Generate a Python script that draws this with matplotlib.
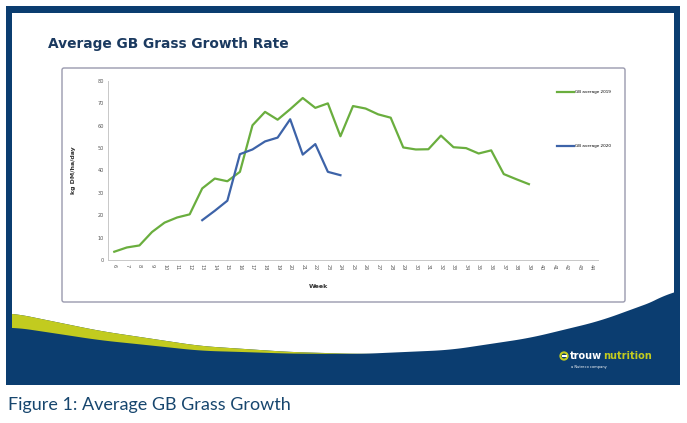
import numpy as np
import matplotlib
matplotlib.use("Agg")
import matplotlib.pyplot as plt
from matplotlib.patches import Rectangle, Polygon, FancyBboxPatch, Circle

# ---- data ----
weeks = list(range(6, 45))
weeks_2019 = list(range(6, 40))
avg_2019 = [3.7, 5.6, 6.5, 12.5, 16.7, 19.0, 20.4, 32.0, 36.4, 35.2, 39.4, 60.2,
            66.2, 62.7, 67.4, 72.4, 68.0, 70.0, 55.3, 68.8, 67.7, 65.1, 63.6,
            50.3, 49.4, 49.5, 55.6, 50.4, 50.0, 47.6, 49.0, 38.4, 36.1, 33.9]
weeks_2020 = list(range(13, 25))
avg_2020 = [17.8, 22.0, 26.5, 47.3, 49.4, 53.0, 54.7, 62.9, 47.1, 51.8, 39.4, 37.9]
yticks = list(range(0, 90, 10))
series_labels = ["GB average 2019", "GB average 2020"]

W, H = 687, 423
NAVY = "#0b3d70"
YELLOW = "#c2cb1f"
GREEN = "#6aae3e"
BLUE = "#3d63a8"

fig = plt.figure(figsize=(W / 100, H / 100), dpi=100)
fig.patch.set_facecolor("white")

# background decorations in pixel coordinates
bg = fig.add_axes([0, 0, 1, 1], zorder=0)
bg.set_xlim(0, W)
bg.set_ylim(H, 0)
bg.axis("off")

bg.add_patch(Rectangle((6, 6), 674, 379, facecolor=NAVY, edgecolor="none"))

xs = np.linspace(12, 674, 300)
top_ctrl_x = [12, 100, 200, 290, 360, 450, 530, 600, 663, 674]
top_ctrl_y = [313, 331, 346, 352, 354, 350, 338, 321, 298, 289]
white_bottom = np.interp(xs, top_ctrl_x, top_ctrl_y)
white_bottom = np.convolve(np.pad(white_bottom, 8, mode="edge"), np.ones(17) / 17, mode="valid")
white_poly = [(12, 13), (674, 13)] + list(zip(xs[::-1], white_bottom[::-1]))
bg.add_patch(Polygon(white_poly, closed=True, facecolor="white", edgecolor="none"))

# yellow swoosh: tapering band under the white area
mask = xs <= 380
yx = xs[mask]
y_top = white_bottom[mask]
thick = 14.0 * np.clip(1 - (yx - 12) / 368.0, 0, 1) ** 1.5
y_bot = y_top + thick
yellow_poly = list(zip(yx, y_top)) + list(zip(yx[::-1], y_bot[::-1]))
bg.add_patch(Polygon(yellow_poly, closed=True, facecolor=YELLOW, edgecolor="none"))

# chart frame
bg.add_patch(FancyBboxPatch((62, 68), 563, 234, boxstyle="round,pad=0,rounding_size=2",
                            facecolor="white", edgecolor="#9a9aae", linewidth=1.0))

# title
bg.text(48, 44, "Average GB Grass Growth Rate", fontsize=9.9, fontweight="bold",
        color="#1b3a60", ha="left", va="center", family="DejaVu Sans")

# logo
bg.add_patch(Circle((564, 356), 3.6, facecolor="none", edgecolor=YELLOW, linewidth=1.5))
bg.add_patch(Rectangle((561.5, 355.2), 5, 1.6, facecolor="white", edgecolor="none"))
bg.text(569.5, 356, "trouw", fontsize=7.0, fontweight="bold", color="white",
        ha="left", va="center", family="DejaVu Sans")
bg.text(603, 356, "nutrition", fontsize=7.0, fontweight="bold", color=YELLOW,
        ha="left", va="center", family="DejaVu Sans")
bg.text(571, 367, "a Nutreco company", fontsize=2.6, color="white",
        ha="left", va="center")

# caption
bg.text(8, 405, "Figure 1: Average GB Grass Growth", fontsize=13, color="#17466e",
        ha="left", va="center", family="Lato")

# ---- chart axes ----
left, right, top, bottom = 108, 598, 81, 260
ax = fig.add_axes([left / W, (H - bottom) / H, (right - left) / W, (bottom - top) / H], zorder=2)
ax.patch.set_alpha(0)

pos = {w: i for i, w in enumerate(weeks)}
ax.plot([pos[w] for w in weeks_2019], avg_2019, color=GREEN, linewidth=1.6,
        label=series_labels[0], solid_joinstyle="round")
ax.plot([pos[w] for w in weeks_2020], avg_2020, color=BLUE, linewidth=1.6,
        label=series_labels[1], solid_joinstyle="round")

ax.set_xlim(-0.5, len(weeks) - 0.5)
ax.set_ylim(0, 80)
ax.set_yticks(yticks)
ax.set_yticklabels([str(v) for v in yticks], fontsize=3.6, color="#555555")
ax.set_xticks(range(len(weeks)))
ax.set_xticklabels([str(w) for w in weeks], fontsize=3.6, color="#555555", rotation=270)
ax.tick_params(axis="both", length=0, pad=3)
for s in ["top", "right"]:
    ax.spines[s].set_visible(False)
ax.spines["left"].set_color("#c8c8c8")
ax.spines["bottom"].set_color("#c8c8c8")
ax.spines["left"].set_linewidth(0.7)
ax.spines["bottom"].set_linewidth(0.7)

fig.text(318 / W, (H - 287) / H, "Week", fontsize=4.5, fontweight="bold",
         color="#333333", ha="center", va="center")
fig.text(74 / W, (H - 170) / H, "kg DM/ha/day", fontsize=4.5, fontweight="bold",
         color="#333333", ha="center", va="center", rotation=90)

ax.legend(loc="upper left", bbox_to_anchor=(557 / W, (H - 90) / H), bbox_transform=fig.transFigure,
          frameon=False, fontsize=3, labelspacing=12, handlelength=4, handletextpad=0.3,
          borderaxespad=0, borderpad=0)

fig.savefig("out.png", dpi=100, facecolor="white")
